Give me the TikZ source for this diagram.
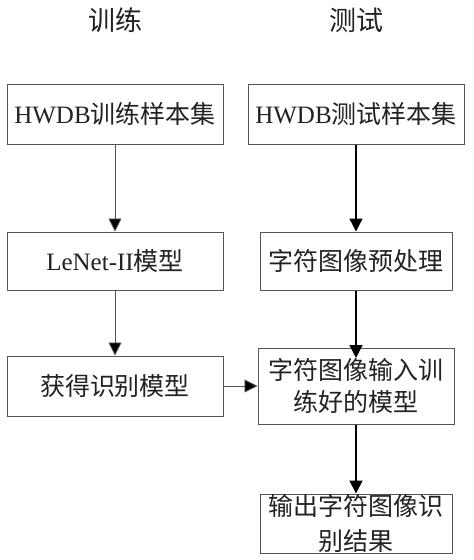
\documentclass[tikz,border=0pt]{standalone}
\usepackage{fontspec}
\setmainfont{Liberation Serif}
\newfontfamily\cjk{Noto Sans CJK SC}
\usetikzlibrary{arrows.meta}
\definecolor{boxline}{HTML}{555555}
\definecolor{txt}{HTML}{222222}
\tikzset{
  flowbox/.style={draw=boxline, line width=1pt, inner sep=0pt, text=txt, align=center,
    font=\fontsize{25}{32}\selectfont},
  titletext/.style={text=txt, inner sep=0pt, font=\fontsize{27}{30}\selectfont\cjk},
  thinarrow/.style={draw=boxline, line width=0.8pt, -{Triangle[length=13pt,width=13pt,fill=black]}},
  thickarrow/.style={draw=black, line width=1.4pt, -{Triangle[length=13pt,width=13pt,fill=black]}},
}
\begin{document}
\begin{tikzpicture}[x=1pt,y=-1pt]
\useasboundingbox (0,0) rectangle (474,560);
\fill[white] (0,0) rectangle (474,560);
\node[titletext] (t1) at (115,20) {训练};
\node[titletext] (t2) at (356,20) {测试};
\node[flowbox, minimum width=216pt, minimum height=60pt] (b1) at (115,114) {HWDB{\cjk 训练样本集}};
\node[flowbox, minimum width=216pt, minimum height=60pt] (b2) at (356,114) {HWDB{\cjk 测试样本集}};
\node[flowbox, minimum width=216pt, minimum height=58pt] (b3) at (115,261) {LeNet-II{\cjk 模型}};
\node[flowbox, minimum width=192pt, minimum height=58pt] (b4) at (356,261) {\cjk 字符图像预处理};
\node[flowbox, minimum width=216pt, minimum height=60pt] (b5) at (115,386) {\cjk 获得识别模型};
\node[flowbox, minimum width=196pt, minimum height=76pt] (b6) at (356,386) {\cjk 字符图像输入训\\\cjk 练好的模型};
\node[flowbox, minimum width=192pt, minimum height=59pt, font=\fontsize{25}{35}\selectfont] (b7) at (356,523.5) {\cjk 输出字符图像识\\\cjk 别结果};
\coordinate (b6tip) at (356,358);
\draw[thinarrow] (b1.south) -- (b3.north);
\draw[thinarrow] (b3.south) -- (b5.north);
\draw[thickarrow] (b2.south) -- (b4.north);
\draw[thickarrow] (b4.south) -- (b6tip);
\draw[thinarrow] (b5.east) -- (b6.west);
\draw[thickarrow] (b6.south) -- (b7.north);
\end{tikzpicture}
\end{document}
